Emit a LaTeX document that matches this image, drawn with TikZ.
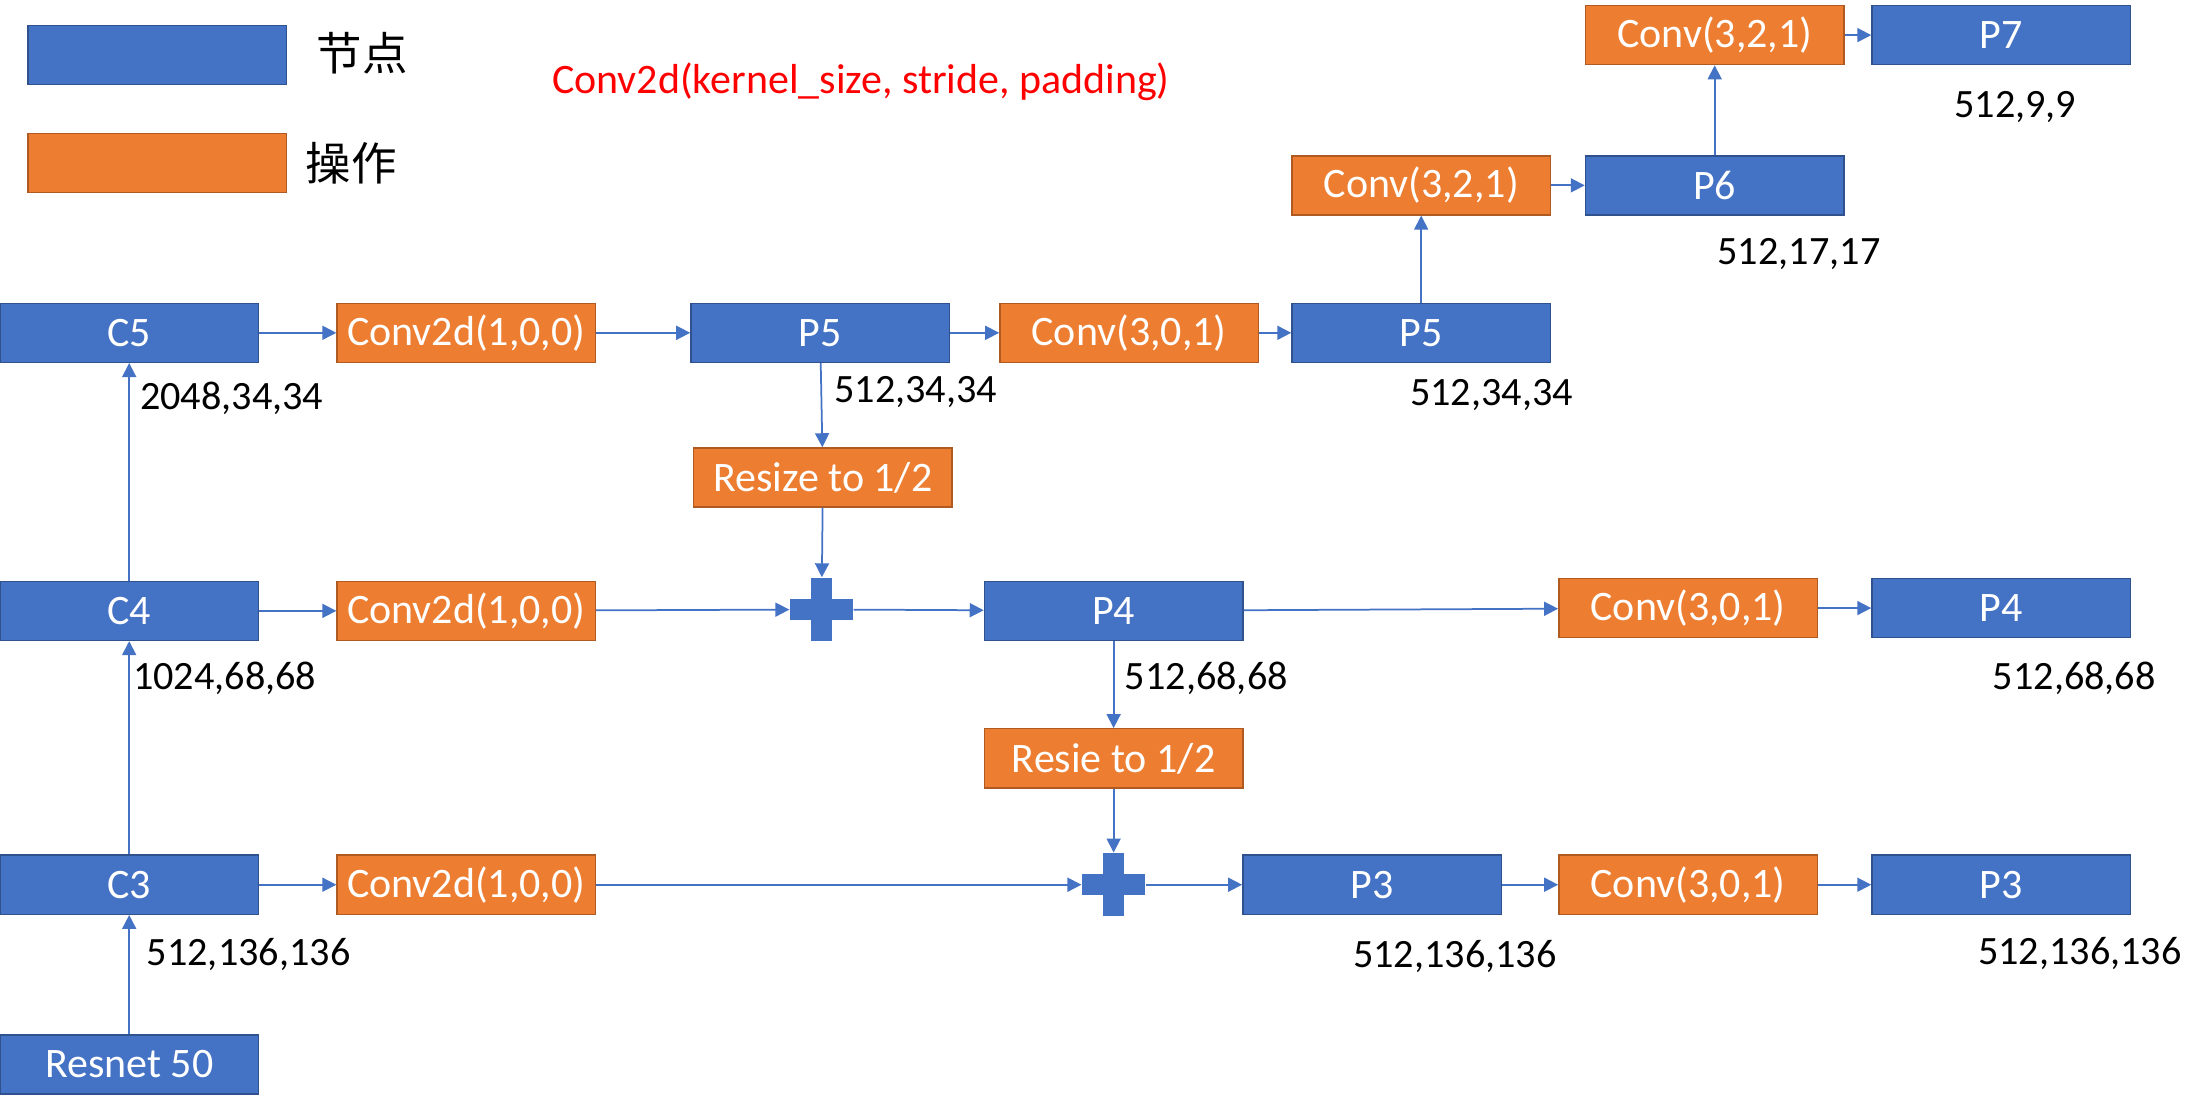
\documentclass[tikz,border=0pt]{standalone}
\usepackage{fontspec}
\setmainfont{Carlito}
\newfontfamily\cjk{Noto Sans CJK SC}
\usetikzlibrary{arrows.meta}
\definecolor{nodeblue}{HTML}{4472C4}
\definecolor{nodeline}{HTML}{2F528F}
\definecolor{opfill}{HTML}{ED7D31}
\definecolor{opline}{HTML}{AE5A21}
\tikzset{
  blk/.style={draw=nodeline, fill=nodeblue, text=white, minimum width=73.9pt, minimum height=16.9pt, inner sep=0pt, font=\fontsize{12}{14}\selectfont},
  op/.style={blk, draw=opline, fill=opfill},
  dim/.style={font=\fontsize{11.5}{14}\selectfont},
  sum/.style={minimum size=18pt, inner sep=0pt},
  link/.style={draw=nodeblue, line width=.5pt, -{Triangle[length=4pt,width=4pt]}}
}
\begin{document}
\begin{tikzpicture}[x=0.014115cm, y=-0.014115cm]
    \useasboundingbox (0,0) rectangle (1568,791);
    % legend
    \node [blk] (keyn) at (112,39) {};
    \node [op] (keyo) at (112,116) {};
    \node [font=\cjk\fontsize{13}{15}\selectfont] (keyntxt) at (258,38) {节点};
    \node [font=\cjk\fontsize{13}{15}\selectfont] (keyotxt) at (250,116) {操作};
    \node [text=red, font=\fontsize{12}{14}\selectfont] (title) at (613,58) {Conv2d(kernel\_size, stride, padding)};
    % backbone
    \node [blk] (res) at (92,758) {Resnet 50};
    \node [blk] (c3) at (92,630) {C3};
    \node [blk] (c4) at (92,435) {C4};
    \node [blk] (c5) at (92,237) {C5};
    % top row
    \node [op] (lat5) at (332,237) {Conv2d(1,0,0)};
    \node [blk] (p5) at (584,237) {P5};
    \node [op] (out5) at (804,237) {Conv(3,0,1)};
    \node [blk] (p5b) at (1012,237) {P5};
    \node [op] (down6) at (1012,132) {Conv(3,2,1)};
    \node [blk] (p6) at (1221,132) {P6};
    \node [op] (down7) at (1221,25) {Conv(3,2,1)};
    \node [blk] (p7) at (1425,25) {P7};
    % middle row
    \node [op] (rs5) at (586,340) {Resize to 1/2};
    \node [sum] (s4) at (585,434) {};
    \node [op] (lat4) at (332,435) {Conv2d(1,0,0)};
    \node [blk] (p4) at (793,435) {P4};
    \node [op] (out4) at (1202,433) {Conv(3,0,1)};
    \node [blk] (p4b) at (1425,433) {P4};
    % bottom row
    \node [op] (rs4) at (793,540) {Resie to 1/2};
    \node [sum] (s3) at (793,630) {};
    \node [op] (lat3) at (332,630) {Conv2d(1,0,0)};
    \node [blk] (p3) at (977,630) {P3};
    \node [op] (out3) at (1202,630) {Conv(3,0,1)};
    \node [blk] (p3b) at (1425,630) {P3};
    % plus signs
    \foreach \s in {s3,s4} {
        \fill [nodeblue] (\s.center) +(-9pt,-3pt) rectangle +(9pt,3pt);
        \fill [nodeblue] (\s.center) +(-3pt,-9pt) rectangle +(3pt,9pt);
    }
    % sizes
    \node [dim] (d5) at (165,284) {2048,34,34};
    \node [dim] (d4) at (160,483) {1024,68,68};
    \node [dim] (d3) at (177,680) {512,136,136};
    \node [dim] (dp5) at (652,279) {512,34,34};
    \node [dim] (dp5b) at (1062,281) {512,34,34};
    \node [dim] (dp6) at (1281,181) {512,17,17};
    \node [dim] (dp7) at (1435,76) {512,9,9};
    \node [dim] (dp4) at (859,483) {512,68,68};
    \node [dim] (dp4b) at (1477,483) {512,68,68};
    \node [dim] (dp3) at (1036,681) {512,136,136};
    \node [dim] (dp3b) at (1481,679) {512,136,136};
    % links
    \draw [link] (res) -- (c3);
    \draw [link] (c3) -- (c4);
    \draw [link] (c4) -- (c5);
    \draw [link] (c5) -- (lat5);
    \draw [link] (lat5) -- (p5);
    \draw [link] (p5) -- (out5);
    \draw [link] (out5) -- (p5b);
    \draw [link] (p5b) -- (down6);
    \draw [link] (down6) -- (p6);
    \draw [link] (p6) -- (down7);
    \draw [link] (down7) -- (p7);
    \draw [link] (p5) -- (rs5);
    \draw [link] (rs5) -- (s4);
    \draw [link] (c4) -- (lat4);
    \draw [link] (lat4) -- (s4);
    \draw [link] (s4) -- (p4);
    \draw [link] (p4) -- (out4);
    \draw [link] (out4) -- (p4b);
    \draw [link] (p4) -- (rs4);
    \draw [link] (rs4) -- (s3);
    \draw [link] (c3) -- (lat3);
    \draw [link] (lat3) -- (s3);
    \draw [link] (s3) -- (p3);
    \draw [link] (p3) -- (out3);
    \draw [link] (out3) -- (p3b);
\end{tikzpicture}
\end{document}
